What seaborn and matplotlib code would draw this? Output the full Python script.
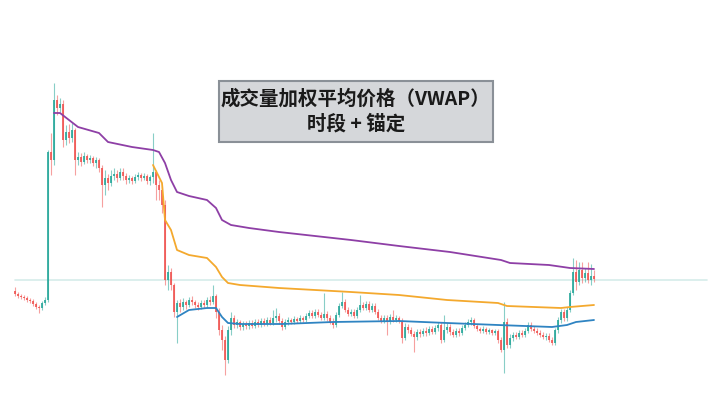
import matplotlib
matplotlib.use("Agg")
import numpy as np
import pandas as pd
import seaborn as sns
from matplotlib import pyplot as plt
from matplotlib.patches import Rectangle

# candle prices (one bar per session step)
opens = [114, 111, 109, 108, 107, 105, 104, 101, 98, 97, 102, 105, 253, 245, 305, 297, 301, 265, 273, 267,
         275, 245, 248, 243, 249, 245, 247, 242, 245, 237, 220, 227, 222, 229, 231, 227, 233, 229, 225, 227,
         224, 228, 230, 227, 229, 224, 228, 233, 220, 215, 200, 125, 133, 120, 93, 102, 98, 103, 100, 105,
         103, 100, 98, 102, 100, 105, 103, 109, 93, 75, 65, 45, 75, 87, 80, 83, 78, 81, 79, 82,
         79, 83, 80, 84, 81, 85, 82, 87, 89, 84, 78, 83, 85, 83, 86, 84, 87, 85, 89, 92,
         89, 93, 90, 87, 91, 87, 83, 80, 90, 99, 103, 95, 91, 93, 89, 95, 100, 97, 101, 95,
         99, 93, 87, 84, 87, 83, 88, 85, 87, 84, 67, 78, 75, 71, 68, 73, 71, 74, 72, 76,
         73, 77, 80, 65, 75, 78, 73, 70, 74, 72, 77, 80, 83, 85, 79, 76, 74, 76, 73, 75,
         72, 74, 65, 55, 83, 60, 67, 70, 68, 72, 70, 74, 80, 76, 74, 72, 70, 68, 69, 65,
         62, 75, 85, 93, 87, 95, 112, 133, 123, 135, 127, 132, 125, 129]
closes = [111, 109, 108, 107, 105, 104, 101, 98, 97, 102, 105, 253, 245, 305, 297, 301, 265, 273, 267, 275,
          245, 248, 243, 249, 245, 247, 242, 245, 237, 220, 227, 222, 229, 231, 227, 233, 229, 225, 227, 224,
          228, 230, 227, 229, 224, 228, 233, 220, 215, 200, 125, 133, 120, 93, 102, 98, 103, 100, 105, 103,
          100, 98, 102, 100, 105, 103, 109, 93, 75, 65, 45, 75, 87, 80, 83, 78, 81, 79, 82, 79,
          83, 80, 84, 81, 85, 82, 87, 89, 84, 78, 83, 85, 83, 86, 84, 87, 85, 89, 92, 89,
          93, 90, 87, 91, 87, 83, 80, 90, 99, 103, 95, 91, 93, 89, 95, 100, 97, 101, 95, 99,
          93, 87, 84, 87, 83, 88, 85, 87, 84, 67, 78, 75, 71, 68, 73, 71, 74, 72, 76, 73,
          77, 80, 65, 75, 78, 73, 70, 74, 72, 77, 80, 83, 85, 79, 76, 74, 76, 73, 75, 72,
          74, 65, 55, 83, 60, 67, 70, 68, 72, 70, 74, 80, 76, 74, 72, 70, 68, 69, 65, 62,
          75, 85, 93, 87, 95, 112, 133, 123, 135, 127, 132, 125, 129, 126]
highs = [118, 113, 111, 110, 109, 107, 106, 103, 100, 104, 108, 255, 272, 322, 310, 307, 305, 280, 281, 282,
         277, 253, 252, 253, 251, 250, 249, 248, 247, 240, 235, 231, 235, 237, 235, 237, 237, 232, 230, 229,
         231, 233, 232, 232, 231, 230, 272, 235, 225, 219, 205, 140, 137, 122, 105, 106, 107, 105, 108, 109,
         105, 103, 105, 105, 108, 109, 120, 111, 97, 80, 69, 79, 93, 90, 86, 85, 84, 84, 85, 85,
         86, 86, 87, 87, 88, 88, 95, 97, 92, 87, 86, 88, 87, 89, 88, 90, 89, 92, 95, 95,
         96, 96, 93, 112, 94, 90, 87, 93, 102, 113, 106, 98, 96, 96, 98, 110, 103, 104, 104, 102,
         102, 96, 90, 90, 90, 91, 95, 90, 89, 87, 82, 81, 78, 74, 76, 76, 77, 78, 79, 79,
         80, 83, 83, 90, 82, 81, 76, 77, 77, 80, 83, 86, 88, 87, 81, 78, 79, 78, 77, 76,
         76, 76, 68, 103, 87, 71, 73, 73, 75, 75, 77, 83, 83, 79, 77, 75, 73, 72, 72, 68,
         77, 88, 96, 96, 98, 115, 147, 145, 143, 143, 137, 143, 141, 135]
lows = [109, 107, 106, 105, 103, 102, 99, 96, 92, 95, 100, 103, 230, 240, 290, 293, 258, 260, 262, 263,
        230, 240, 239, 241, 242, 242, 239, 237, 233, 198, 210, 215, 219, 225, 223, 225, 225, 221, 222, 221,
        222, 225, 224, 225, 221, 220, 222, 205, 205, 192, 120, 115, 115, 88, 62, 93, 95, 96, 98, 100,
        97, 95, 96, 97, 97, 100, 101, 87, 70, 55, 30, 42, 70, 77, 77, 75, 75, 76, 76, 77,
        77, 78, 78, 79, 79, 80, 80, 83, 81, 75, 76, 80, 81, 81, 82, 82, 83, 83, 87, 87,
        87, 88, 85, 85, 84, 81, 77, 78, 88, 97, 93, 89, 89, 87, 87, 93, 95, 95, 93, 93,
        91, 85, 82, 82, 70, 81, 83, 83, 82, 62, 65, 72, 69, 53, 65, 68, 69, 69, 70, 71,
        71, 74, 62, 63, 72, 70, 68, 68, 69, 70, 75, 78, 80, 77, 74, 72, 72, 71, 71, 70,
        70, 62, 53, 32, 57, 57, 64, 66, 66, 68, 68, 72, 74, 72, 70, 68, 66, 65, 63, 60,
        60, 72, 82, 84, 84, 93, 110, 115, 120, 122, 123, 122, 120, 123]

# anchored / session VWAP lines, sampled at bar positions
purple_bar = [13, 15, 21, 28, 31, 39, 46, 48, 50, 52, 54, 58, 64, 67, 69, 72, 78, 88, 112, 128, 145, 162, 165, 178, 185, 193]
purple_vwap = [292, 292, 278, 272, 263, 258, 255, 253, 242, 225, 213, 209, 205, 197, 185, 180, 177, 173, 165, 159,
               153, 145, 142, 140, 137, 136]
orange_bar = [46, 49, 50, 52, 54, 58, 64, 67, 69, 71, 75, 88, 112, 128, 144, 161, 164, 182, 185, 193]
orange_vwap = [240, 222, 185, 175, 155, 150, 147, 138, 128, 122, 120, 117, 113, 110, 105, 102, 99, 97, 98, 100]
blue_bar = [54, 58, 64, 67, 69, 71, 75, 89, 106, 128, 144, 161, 179, 184, 187, 193]
blue_vwap = [88, 95, 97, 97, 88, 82, 81, 81, 83, 84, 82, 80, 78, 80, 83, 85]

ref_level = 125.5

title_1 = "成交量加权平均价格（VWAP）"
title_2 = "时段 + 锚定"

sns.set_theme(style="white")
plt.rcParams['font.family'] = ['Noto Sans CJK SC', 'DejaVu Sans']

df = pd.DataFrame({"open": opens, "high": highs, "low": lows, "close": closes})
df["bar"] = np.arange(len(df))
up = df["close"] >= df["open"]
green, red = "#26a69a", "#ef5350"
colors = np.where(up, green, red)

fig = plt.figure(figsize=(7.2, 4.05), dpi=100)
ax = fig.add_axes([0, 0, 1, 1])

ax.axhline(ref_level, xmin=0.021, xmax=0.982, color="#d6ecea", linewidth=1.2, zorder=1)

ax.vlines(df["bar"], df["low"], df["high"], colors=colors, linewidth=0.8, alpha=0.55, zorder=2)
body_bottom = np.minimum(df["open"], df["close"])
body_height = np.maximum(np.abs(df["close"] - df["open"]), 0.8)
ax.bar(df["bar"], body_height, bottom=body_bottom, width=0.62, color=colors, alpha=0.85,
       linewidth=0, zorder=3)

vwap = pd.concat([
    pd.DataFrame({"bar": purple_bar, "vwap": purple_vwap, "kind": "purple"}),
    pd.DataFrame({"bar": orange_bar, "vwap": orange_vwap, "kind": "orange"}),
    pd.DataFrame({"bar": blue_bar, "vwap": blue_vwap, "kind": "blue"}),
])
sns.lineplot(data=vwap, x="bar", y="vwap", hue="kind", ax=ax, legend=False, linewidth=1.3,
             palette={"purple": "#8e3fa6", "orange": "#f4a92e", "blue": "#2f84c2"},
             estimator=None, sort=False, zorder=4)

ax.set_xlim(-5, 235)
ax.set_ylim(0, 405)
ax.axis("off")

# title box
fig.patches.append(Rectangle((0.304, 0.649), 0.381, 0.151, transform=fig.transFigure,
                             facecolor="#d5d7da", edgecolor="#8a9097", linewidth=1.5, zorder=5))
fig.text(0.494, 0.756, title_1, ha="center", va="center", fontsize=14, fontweight="heavy",
         color="#1a1a1a", zorder=6)
fig.text(0.494, 0.694, title_2, ha="center", va="center", fontsize=14, fontweight="heavy",
         color="#1a1a1a", zorder=6)

fig.savefig("out.png", dpi=100)
